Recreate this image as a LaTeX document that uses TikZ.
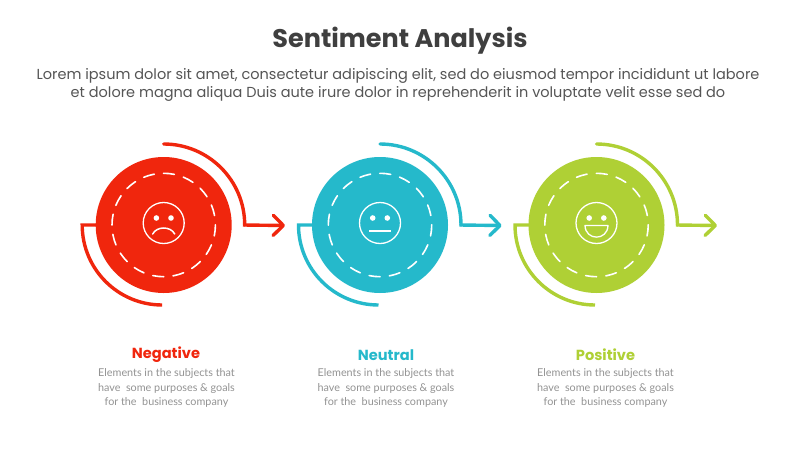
\documentclass[tikz,border=0pt]{standalone}
\usepackage{fontspec}
\setmainfont{Poppins}
\newfontfamily\bodyfont{Lato}
\usetikzlibrary{arrows.meta,calc}
\definecolor{cneg}{HTML}{F0260D}
\definecolor{cneu}{HTML}{25B9CB}
\definecolor{cpos}{HTML}{AFD035}
\definecolor{ctitle}{HTML}{3F3F3F}
\definecolor{csub}{HTML}{555555}
\definecolor{cbody}{HTML}{939393}
\tikzset{
  x=1pt,y=-1pt,
  disc/.style={circle,fill=#1,draw=none,minimum size=136pt,inner sep=0pt},
  ring/.style={draw=white,line width=1.6pt,dash pattern=on 11pt off 9.28pt,line cap=round},
  facering/.style={draw=white,line width=1.3pt},
  sweep/.style={draw=#1,line width=3.4pt,line cap=round,line join=miter},
  arrowline/.style={draw=#1,line width=3.4pt,line join=miter,
    -{Straight Barb[length=10pt,width=20pt,line width=3.4pt,round]}},
  heading/.style={font=\fontsize{14.6}{16}\selectfont\bfseries,text=#1},
  blurb/.style={font=\bodyfont\fontsize{10.8}{14.4}\selectfont,text=cbody,align=center},
}
\newcommand{\stage}[5]{%
 \node[disc=#3] (#1) at (#2,225) {};
 \draw[ring] (#2,225) circle[radius=51.7];
 \coordinate (#1top) at (#2,144);
 \coordinate (#1right) at ($(#2,225)+(81,0)$);
 \coordinate (#1tip) at (#4,225.5);
 \coordinate (#1left) at ($(#2,225)+(-81.5,0)$);
 \draw[sweep=#3] (#1top) arc[start angle=-90,end angle=0,radius=81];
 \draw[arrowline=#3] ($(#1right)+(-1.7,0)$) -- (#1tip);
 \draw[sweep=#3,line cap=butt] (#1) ++(-67,0) -- (#1left) arc[start angle=180,end angle=90,radius=80];
 \begin{scope}[shift={(#2,223)}]
  \draw[facering] (0,0) circle[radius=20.5];
  \fill[white] (-7.3,-5) circle[radius=2.8] (7.3,-5) circle[radius=2.8];
  #5
 \end{scope}
}
\begin{document}
\begin{tikzpicture}
\useasboundingbox (0,0) rectangle (800,450);
\fill[white] (0,0) rectangle (800,450);
\node[font=\fontsize{25.5}{28}\selectfont\bfseries,text=ctitle] (title) at (400,41) {Sentiment Analysis};
\node[font=\fontsize{14.5}{18}\selectfont,text=csub,align=center] (subtitle) at (398,85) {Lorem ipsum dolor sit amet, consectetur adipiscing elit, sed do eiusmod tempor incididunt ut labore\\et dolore magna aliqua Duis aute irure dolor in reprehenderit in voluptate velit esse sed do};
\stage{neg}{163.7}{cneg}{285}{\draw[white,line width=1.5pt,line cap=round] (-11,11) .. controls (-7,3) and (7,3) .. (11,11);}
\stage{neu}{380}{cneu}{501.7}{\draw[white,line width=1.5pt] (-11,8) -- (11,8);}
\stage{pos}{596.5}{cpos}{717}{\draw[white,line width=1.3pt,line join=round] (-11.5,2.5) -- (11.5,2.5) .. controls (11,18) and (-11,18) .. (-11.5,2.5) -- cycle;}
\node[heading=cneg] (hneg) at (166,355) {Negative};
\node[heading=cneu] (hneu) at (386,355) {Neutral};
\node[heading=cpos] (hpos) at (605.5,355) {Positive};
\node[blurb] (bneg) at (166.5,388) {Elements in the subjects that\\have\ \ some purposes \& goals\\for the\ \ business company};
\node[blurb] (bneu) at (386,388) {Elements in the subjects that\\have\ \ some purposes \& goals\\for the\ \ business company};
\node[blurb] (bpos) at (605.5,388) {Elements in the subjects that\\have\ \ some purposes \& goals\\for the\ \ business company};
\end{tikzpicture}
\end{document}
